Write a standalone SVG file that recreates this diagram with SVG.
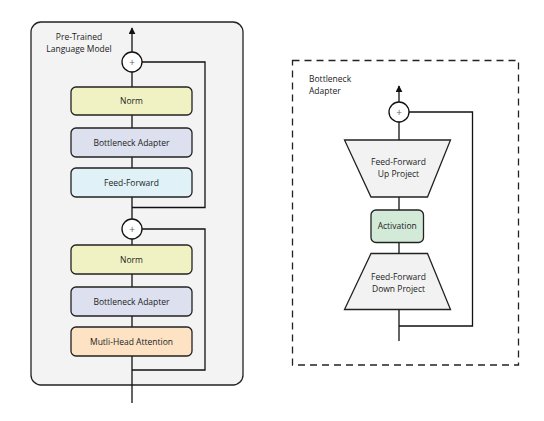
<svg xmlns="http://www.w3.org/2000/svg" width="544" height="421" viewBox="0 0 544 421">
<style>
text{font-family:"Open Sans","Noto Sans","Liberation Sans",sans-serif;font-size:8.5px;fill:#222;text-anchor:middle}
.box{stroke:#222;stroke-width:1.3}
.ln{stroke:#111;stroke-width:1.3;fill:none}
.plus{fill:#fff;stroke:#111;stroke-width:1.3}
.pt{fill:#666;font-size:10px}
</style>
<defs>
<marker id="arr" viewBox="0 0 10 10" refX="9" refY="5" markerWidth="7" markerHeight="7" orient="auto" markerUnits="userSpaceOnUse">
<path d="M0,0 L10,5 L0,10 z" fill="#111"/>
</marker>
</defs>
<rect width="544" height="421" fill="#fff"/>
<g id="plm">
<rect x="31" y="22" width="212" height="363" rx="10" fill="#f3f3f3" stroke="#222" stroke-width="1.3"/>
<text x="79" y="40">Pre-Trained</text>
<text x="79" y="52">Language Model</text>
</g>
<g id="adapter-panel">
<rect x="292.5" y="60.5" width="226" height="304.5" fill="none" stroke="#222" stroke-width="1.3" stroke-dasharray="7,5"/>
<text x="309" y="82" style="text-anchor:start">Bottleneck</text>
<text x="309" y="94" style="text-anchor:start">Adapter</text>
</g>
<g id="connectors">
<line class="ln" x1="132" y1="403" x2="132" y2="28" marker-end="url(#arr)"/>
<polyline class="ln" points="142,62 205,62 205,207.5 132,207.5"/>
<polyline class="ln" points="142,229 205,229 205,370 132,370"/>
<line class="ln" x1="399" y1="341" x2="399" y2="86" marker-end="url(#arr)"/>
<polyline class="ln" points="409,112 472.5,112 472.5,326 399,326"/>
</g>
<g id="add1"><circle class="plus" cx="132" cy="62" r="10"/><text class="pt" x="132" y="65.5">+</text></g>
<g id="norm1"><rect class="box" x="71" y="87" width="121" height="28" rx="5" fill="#f0f2c4"/><text x="131.5" y="104">Norm</text></g>
<g id="ba1"><rect class="box" x="71" y="128" width="121" height="29" rx="5" fill="#dde0ee"/><text x="131.5" y="145.5">Bottleneck Adapter</text></g>
<g id="ff1"><rect class="box" x="71" y="168" width="121" height="29" rx="5" fill="#e0f2f8"/><text x="131.5" y="185.5">Feed-Forward</text></g>
<g id="add2"><circle class="plus" cx="132" cy="229" r="10"/><text class="pt" x="132" y="232.5">+</text></g>
<g id="norm2"><rect class="box" x="71" y="245" width="121" height="29" rx="5" fill="#f0f2c4"/><text x="131.5" y="262.5">Norm</text></g>
<g id="ba2"><rect class="box" x="71" y="287" width="121" height="29" rx="5" fill="#dde0ee"/><text x="131.5" y="304.5">Bottleneck Adapter</text></g>
<g id="mha"><rect class="box" x="71" y="327" width="121" height="29" rx="5" fill="#fde2c4"/><text x="131.5" y="344.5">Mutli-Head Attention</text></g>
<g id="add3"><circle class="plus" cx="399" cy="112" r="10"/><text class="pt" x="399" y="115.5">+</text></g>
<g id="up"><polygon class="box" points="344.5,140 450.5,140 427.5,197 371,197" fill="#f2f2f2"/><text x="398.5" y="165">Feed-Forward</text><text x="398.5" y="177">Up Project</text></g>
<g id="act"><rect class="box" x="371" y="210" width="52.5" height="32.5" rx="5" fill="#d4ead9"/><text x="397.2" y="229">Activation</text></g>
<g id="down"><polygon class="box" points="371,253.5 427.5,253.5 450.5,309.5 344.5,309.5" fill="#f2f2f2"/><text x="398.5" y="280">Feed-Forward</text><text x="398.5" y="292">Down Project</text></g>
</svg>
